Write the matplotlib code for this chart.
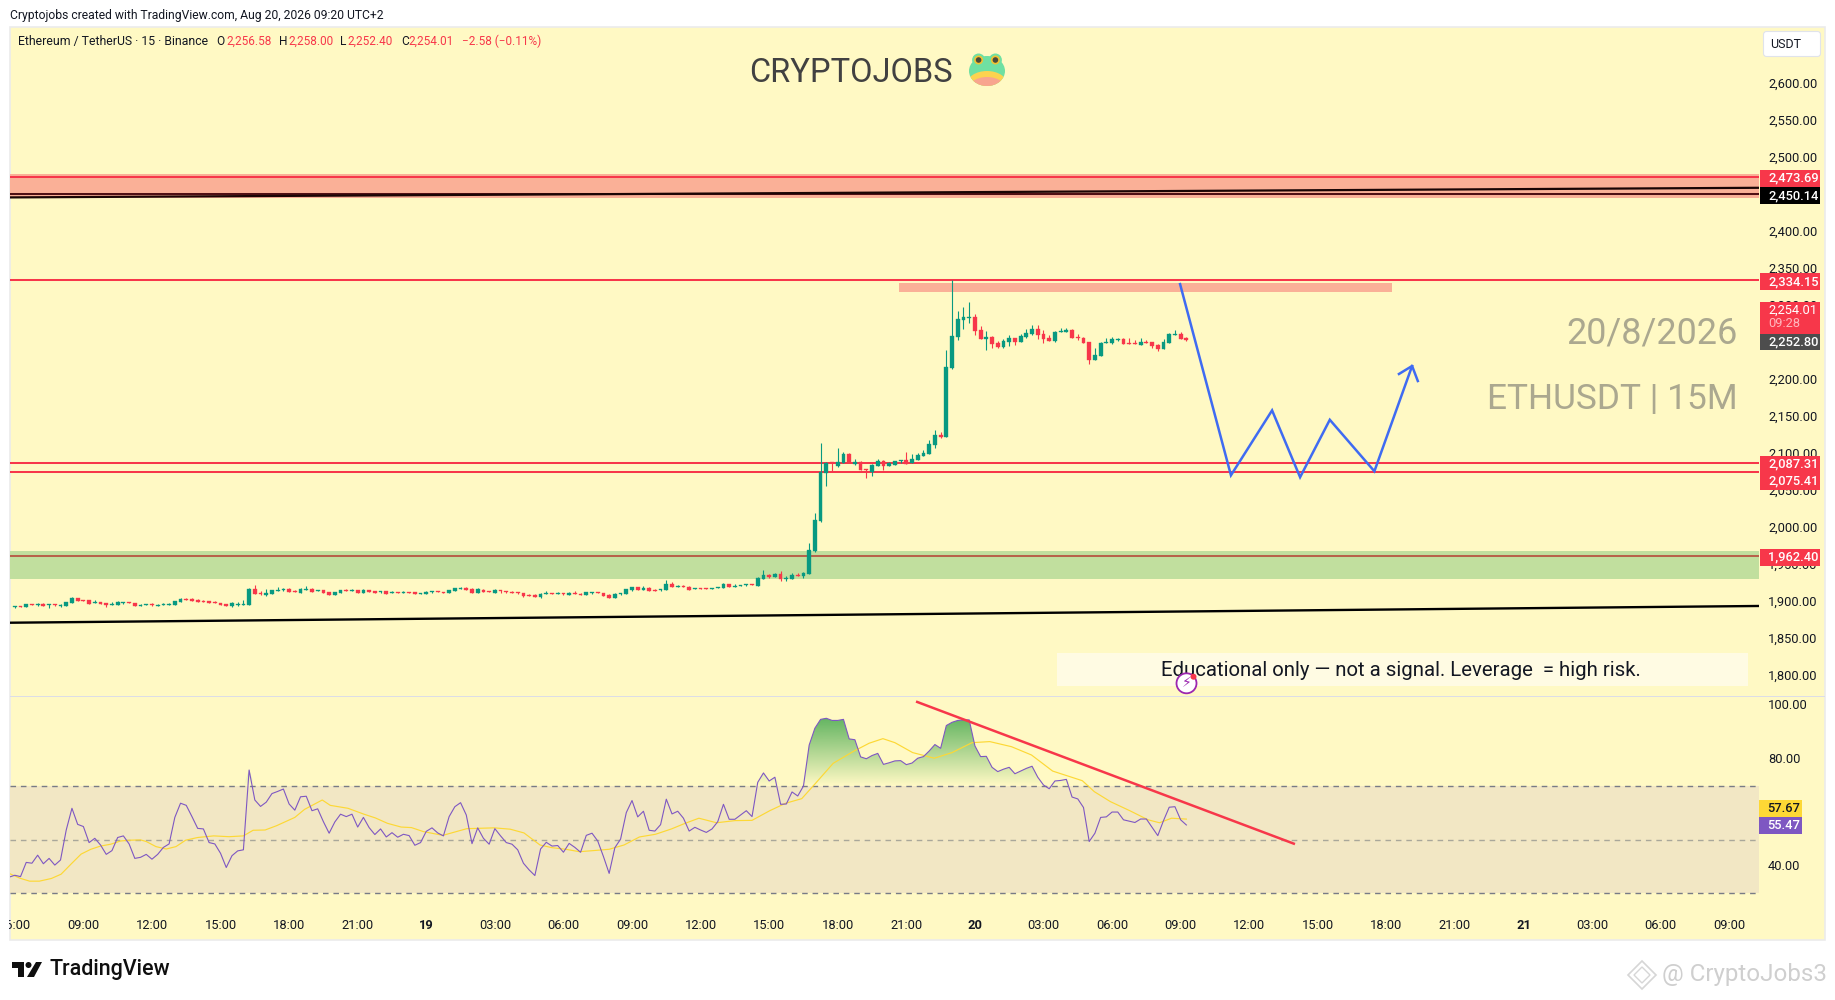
import matplotlib
matplotlib.use('Agg')
import matplotlib.pyplot as plt
from matplotlib.patches import Rectangle, Circle, Ellipse, Polygon, FancyBboxPatch
from matplotlib.transforms import ScaledTranslation
import numpy as np

# 15 minute candles, index 0 = Aug 18 09:00
bar_index = np.arange(-12, 194)
opens = [
    1893.3,1894.2,1893.3,1897.4,1896.0,1897.8,1896.5,1896.9,1894.7,1895.1,
    1899.2,1905.5,1902.8,1902.3,1898.7,1900.1,1898.7,1896.0,1896.0,1898.7,
    1900.1,1898.7,1895.1,1896.0,1897.4,1895.1,1896.5,1896.5,1896.0,1900.1,
    1904.6,1904.6,1903.2,1901.4,1901.4,1900.1,1898.7,1897.4,1894.7,1896.0,
    1896.5,1896.0,1917.6,1912.7,1909.5,1910.9,1914.9,1916.3,1918.1,1915.4,
    1912.7,1916.3,1917.6,1915.4,1916.3,1913.6,1909.5,1912.2,1916.7,1914.9,
    1916.3,1912.2,1916.3,1914.9,1913.6,1914.9,1912.2,1913.6,1912.2,1913.6,
    1913.6,1911.3,1910.9,1913.6,1914.9,1913.6,1912.2,1914.9,1917.6,1919.0,
    1917.6,1912.2,1916.3,1914.9,1912.2,1916.3,1914.9,1913.9,1913.0,1912.1,
    1909.4,1909.8,1906.7,1911.2,1912.1,1911.2,1912.1,1909.4,1911.6,1911.2,
    1909.4,1912.5,1913.4,1912.1,1909.4,1905.3,1911.2,1910.8,1916.2,1920.2,
    1916.2,1918.9,1916.2,1916.6,1916.2,1924.2,1920.2,1921.5,1920.2,1918.0,
    1918.9,1918.9,1918.0,1918.9,1918.9,1924.2,1920.7,1921.5,1922.9,1924.2,
    1921.5,1931.0,1936.4,1933.7,1937.8,1931.4,1931.0,1935.9,1935.1,1937.7,
    1968.7,2009.2,2073.5,2088.8,2083.4,2087.0,2099.6,2086.1,2088.8,2078.9,
    2075.3,2083.4,2089.7,2083.4,2085.2,2089.7,2091.5,2087.0,2091.0,2096.9,
    2099.6,2111.8,2125.3,2122.6,2215.7,2257.5,2280.5,2283.2,2284.6,2267.0,
    2254.9,2258.0,2249.5,2244.1,2250.8,2256.2,2250.8,2257.5,2261.6,2268.4,
    2261.6,2256.2,2252.2,2264.3,2264.3,2267.4,2257.5,2256.2,2250.8,2226.5,
    2231.9,2249.5,2249.5,2253.5,2254.9,2249.5,2249.5,2246.8,2250.8,2250.8,
    2246.8,2241.4,2249.5,2260.2,2261.6,2256.58]
closes = [
    1894.2,1893.3,1897.4,1896.5,1897.8,1895.1,1897.4,1896.0,1896.0,1900.1,
    1905.5,1901.4,1901.9,1897.4,1899.6,1897.4,1896.0,1897.4,1900.1,1900.1,
    1899.2,1894.7,1896.0,1896.9,1896.0,1896.0,1897.4,1897.4,1901.4,1904.1,
    1903.2,1901.4,1900.5,1900.5,1898.7,1899.2,1896.0,1894.7,1898.7,1897.4,
    1897.4,1917.6,1910.9,1910.9,1912.2,1916.3,1916.3,1918.1,1913.6,1914.0,
    1918.1,1917.6,1913.6,1916.3,1912.2,1909.5,1913.6,1916.3,1914.9,1916.7,
    1912.2,1916.3,1913.6,1912.2,1914.9,1910.9,1913.6,1912.7,1913.6,1912.7,
    1910.9,1912.2,1913.6,1914.9,1914.0,1912.7,1916.3,1919.0,1919.0,1916.3,
    1912.2,1917.6,1913.6,1914.0,1916.3,1914.9,1913.6,1912.5,1911.7,1908.5,
    1908.5,1907.1,1910.8,1912.1,1911.2,1912.1,1911.2,1912.1,1910.7,1909.9,
    1913.4,1913.4,1912.5,1908.1,1905.3,1910.8,1912.1,1917.5,1920.2,1916.2,
    1918.9,1914.8,1915.3,1917.5,1924.2,1920.2,1921.5,1920.7,1916.2,1918.9,
    1918.0,1918.0,1918.9,1920.2,1924.2,1920.2,1921.5,1922.9,1924.2,1922.9,
    1932.4,1936.4,1933.7,1937.8,1931.0,1932.4,1936.4,1935.1,1939.1,1970.1,
    2010.6,2075.4,2087.0,2087.9,2088.8,2099.6,2087.0,2088.8,2078.0,2077.6,
    2085.2,2090.2,2083.9,2087.0,2090.2,2091.0,2086.1,2092.9,2098.2,2101.0,
    2113.1,2125.3,2122.6,2217.1,2258.9,2281.9,2284.6,2284.6,2265.6,2254.9,
    2257.5,2248.1,2243.6,2252.2,2256.2,2250.8,2258.9,2262.9,2268.4,2260.2,
    2254.9,2252.2,2264.3,2265.6,2267.0,2256.2,2256.2,2249.5,2226.5,2233.2,
    2249.5,2250.8,2254.9,2254.9,2248.1,2248.1,2248.1,2250.8,2249.5,2245.4,
    2241.4,2250.8,2261.6,2261.6,2254.9,2254.01]
highs = [
    1894.2,1894.2,1897.4,1897.4,1898.7,1898.7,1897.4,1896.9,1897.4,1900.1,
    1906.8,1905.5,1902.8,1902.3,1902.8,1900.1,1898.7,1900.1,1901.4,1900.1,
    1900.1,1898.7,1897.4,1896.9,1898.7,1897.4,1898.7,1898.7,1901.4,1905.5,
    1905.5,1905.5,1904.1,1902.8,1901.4,1901.4,1898.7,1897.4,1900.1,1900.1,
    1902.8,1919.0,1923.0,1914.9,1917.6,1916.3,1920.3,1919.4,1919.0,1916.7,
    1919.0,1921.7,1919.0,1916.3,1916.3,1913.6,1913.6,1916.3,1917.6,1917.6,
    1916.3,1917.6,1916.3,1914.9,1914.9,1914.9,1914.9,1913.6,1914.9,1913.6,
    1913.6,1912.2,1914.9,1914.9,1914.9,1913.6,1916.3,1919.0,1920.3,1920.3,
    1919.0,1919.0,1917.6,1914.9,1917.6,1916.3,1914.9,1914.8,1913.0,1912.1,
    1910.8,1910.8,1912.1,1914.8,1912.1,1913.4,1912.1,1913.4,1914.8,1912.1,
    1913.4,1913.4,1913.4,1912.1,1910.8,1912.1,1912.1,1917.5,1920.2,1920.2,
    1921.6,1920.2,1917.5,1917.5,1929.6,1926.9,1922.9,1922.9,1921.5,1918.9,
    1918.9,1918.9,1918.9,1920.2,1925.6,1924.2,1924.2,1922.9,1924.2,1924.2,
    1933.7,1943.2,1937.8,1939.1,1941.8,1935.1,1939.1,1939.1,1940.4,1979.5,
    2020.0,2114.6,2089.3,2088.8,2107.7,2102.3,2100.5,2092.9,2089.7,2078.9,
    2086.1,2092.9,2091.0,2088.8,2090.2,2091.0,2102.3,2099.6,2100.5,2105.0,
    2118.5,2132.0,2129.3,2240.0,2334.15,2292.6,2298.1,2304.8,2288.6,2272.4,
    2265.6,2258.9,2252.2,2254.9,2260.2,2256.2,2261.6,2268.4,2273.8,2273.8,
    2267.0,2260.2,2265.6,2269.7,2269.7,2268.4,2261.6,2257.5,2250.8,2242.7,
    2250.8,2256.2,2257.5,2256.2,2256.2,2256.2,2253.5,2256.2,2253.5,2250.8,
    2248.1,2254.9,2263.0,2267.0,2264.3,2258.0]
lows = [
    1892.0,1893.3,1893.3,1896.5,1894.7,1895.1,1892.0,1894.7,1893.3,1895.1,
    1899.2,1901.4,1901.9,1897.4,1898.7,1897.4,1893.8,1896.0,1896.0,1897.4,
    1899.2,1894.7,1895.1,1896.0,1894.7,1895.1,1896.5,1896.5,1896.0,1900.1,
    1903.2,1901.4,1900.5,1900.5,1898.7,1899.2,1896.0,1894.7,1893.3,1894.7,
    1896.5,1896.0,1910.9,1909.5,1908.2,1910.9,1914.9,1914.9,1913.6,1914.0,
    1912.7,1916.3,1913.6,1915.4,1912.2,1909.5,1909.5,1912.2,1914.9,1914.9,
    1912.2,1912.2,1913.6,1912.2,1912.2,1910.9,1912.2,1912.7,1912.2,1912.7,
    1910.9,1911.3,1910.9,1912.2,1914.0,1912.7,1912.2,1914.9,1917.6,1916.3,
    1912.2,1912.2,1913.6,1914.0,1912.2,1912.2,1912.2,1912.5,1910.3,1907.1,
    1908.5,1907.1,1905.3,1911.2,1911.2,1911.2,1909.9,1909.4,1910.7,1909.9,
    1909.4,1911.2,1912.5,1908.1,1905.3,1905.3,1909.4,1910.8,1914.8,1916.2,
    1916.2,1914.8,1915.3,1914.8,1916.2,1920.2,1920.2,1920.7,1916.2,1918.0,
    1918.0,1918.0,1918.0,1918.9,1918.9,1920.2,1920.7,1921.5,1921.5,1922.9,
    1921.5,1931.0,1932.4,1933.7,1928.3,1928.3,1931.0,1935.1,1932.4,1937.7,
    1967.4,2007.9,2056.4,2075.7,2081.6,2087.0,2087.0,2084.3,2078.0,2067.2,
    2069.9,2083.4,2078.0,2083.4,2085.2,2087.0,2086.1,2087.0,2091.0,2096.9,
    2099.6,2107.7,2121.2,2122.6,2214.4,2253.5,2268.4,2276.5,2260.2,2254.9,
    2240.0,2242.7,2242.7,2242.7,2245.4,2246.8,2250.8,2256.2,2260.2,2254.9,
    2249.5,2252.2,2250.8,2264.3,2264.3,2256.2,2253.5,2249.5,2221.1,2226.5,
    2231.9,2249.5,2248.1,2252.2,2248.1,2248.1,2248.1,2246.8,2249.5,2242.7,
    2238.7,2241.4,2249.5,2260.2,2254.9,2252.4]

# RSI panel
rsi_index = np.arange(-13, 194)
rsi = [
    36,36.7,36.2,41.5,41.2,44.2,41,43,40.5,42.4,53.6,61.7,55.7,
    54.9,48.9,50.5,48,44.5,45.9,50.8,51.4,48.4,43,43.4,44.5,42.7,44.5,47.1,48.4,
    58.3,63.6,62.8,58.6,54.2,54,48.9,48.4,44.9,39.6,44,45.8,46.2,76,64.8,62.4,
    64,67.2,68,68.9,63.3,61,66,66.2,60.8,61.5,56.7,52.4,56.6,59.5,58.6,59.5,
    54.7,58.3,54.5,51.9,54,51,52.6,50.9,52,51.5,47.9,48.9,53.1,54.4,52.5,51.4,
    58.6,62.3,63.8,59.2,48.5,54.4,50.5,48.3,54.1,51.4,48.9,48.3,46.2,41.2,38.7,
    36.6,46.5,49,47.6,47.8,45.3,48.6,47.1,45.3,51.6,52.4,49.5,43.7,37.4,47,
    50.2,60.1,64.6,58.5,60.6,53.5,53.2,55.6,65.1,59.6,60.6,58,53.2,54.6,53.6,
    52.7,54,56.7,63.2,57.6,57.6,59.2,60.8,58.6,71.4,74.9,71.9,73.3,63.2,63.3,
    67.8,66.3,70,85.3,91.6,94.9,95.3,94.5,94.5,94.9,87.6,87.3,80.9,80.2,81.4,
    82.2,78.1,78.7,79.4,79.5,78,78.6,80.4,81,83.1,85.5,84.1,92.6,93.8,94.5,
    94.7,94.7,85,81,81.1,77,75.4,76.3,77,74.6,75.6,76.6,77.4,73.3,70.4,69,
    71.9,72.1,72.5,65.9,65.2,62,49.3,52.4,58.3,58.5,60.3,60.3,57.4,56.9,56.4,
    57.7,57.7,54.6,51.5,57.1,62.1,62.3,57.4,55.47]
ma_index = [
    -12.9,-11.1,-9.4,-7.7,-5.6,-3.9,-2.1,-0.4,1.3,3,4.8,6.5,8.2,10,11,12.7,14.5,
    16.2,17.9,20,22.8,25.5,28,29.7,31.8,33.8,37,38.7,41.8,43.2,46.3,49.1,51.1,
    53.2,55.6,57.4,59.5,62.9,67.1,71.9,74.7,77.1,79.9,82,84.4,86.8,89.2,92,94.6,
    97.3,100.1,102.9,105.3,107.7,110.8,114,117,120.1,122.9,125.7,128.1,131.2,
    134.7,137.5,139.9,142,145.1,148.9,152,155.5,158.6,162.4,165.9,169.6,174.8,
    176.9,179.7,183.2,186.3,188.3,190.4,193]
ma_values = [
    37.3,35.6,34.5,34.5,35.5,37.1,41,44.6,46.4,47.6,48.3,49.5,49.8,49.9,49.3,47.4,
    46.5,47.4,49.8,50.8,51.4,51.1,51.4,53.5,53.6,55.2,58.3,61.3,64.8,62.8,61.7,
    59.5,58.1,56.1,54.7,54.5,53,51.6,54.1,54.4,53.9,52.5,48,47,46.4,45.5,45.9,
    46.4,48,51,52,54,56.1,58,56.3,57.1,57.2,60.8,63.6,65.3,71,78.5,82.9,86,87.7,
    86.2,82.5,80.4,82.5,86.2,86.6,84.7,81.6,75.6,72,67.9,64.2,60.7,57.4,56.3,58,
    57.67]

# drawings on the price pane
level_prices = [2473.69, 2334.15, 2087.31, 2075.41, 1962.40]
resist_zone = (2445.6, 2477.6)
support_zone = (1931.0, 1968.8)
supply_box_x = (142.7, 229.0)
supply_box_y = (2318.0, 2331.0)
upper_trend_x = [-12.84, 293.2]
upper_trend_y = [2446.0, 2459.0]
lower_trend_y = [1872.0, 1894.6]
path_x = [191.9, 200.8, 208.0, 212.9, 218.1, 225.9, 232.5]
path_y = [2329.0, 2071.0, 2158.6, 2068.4, 2145.9, 2076.4, 2218.5]
head_x = [230.2, 232.5, 233.5]
head_y = [2207.7, 2218.5, 2198.2]
rsi_trend_x = [145.9, 211.8]
rsi_trend_y = [101.4, 48.5]

price_ticks = list(range(1800, 2601, 50))
rsi_ticks = [40, 80, 100]
time_ticks = list(range(-12, 289, 12))
time_labels = ['06:00', '09:00', '12:00', '15:00', '18:00', '21:00', '19',
               '03:00', '06:00', '09:00', '12:00', '15:00', '18:00', '21:00', '20',
               '03:00', '06:00', '09:00', '12:00', '15:00', '18:00', '21:00', '21',
               '03:00', '06:00', '09:00']

BG = '#fff9c4'
RED = '#f7374a'
GREEN = '#089981'
FONT = 'Roboto'
W, H = 1835, 1000

plt.rcParams['font.family'] = FONT


def frac(x0, y0, x1, y1):
    return [x0 / W, 1 - y1 / H, (x1 - x0) / W, (y1 - y0) / H]


fig = plt.figure(figsize=(W / 100, H / 100), dpi=100, facecolor='white')
fig.add_artist(Rectangle((9.5 / W, 1 - 940 / H), 1815.5 / W, 913 / H, transform=fig.transFigure,
                         facecolor=BG, edgecolor='#ebebeb', lw=1.2, zorder=-1))

# price pane
ax = fig.add_axes(frac(10, 27, 1759, 696), facecolor='none')
ax.set_xlim(-12.84, 293.2)
ax.set_ylim(1773.1, 2676)
for s in ax.spines.values():
    s.set_visible(False)

ax.axhspan(*resist_zone, color='#fab097', lw=0, zorder=1)
ax.axhspan(*support_zone, color='#c1df9e', lw=0, zorder=1)
ax.add_patch(Rectangle((supply_box_x[0], supply_box_y[0]), supply_box_x[1] - supply_box_x[0],
                       supply_box_y[1] - supply_box_y[0], color='#fab097', lw=0, zorder=1))
for p in level_prices:
    c = '#b8624a' if p == 1962.40 else RED
    ax.axhline(p, color=c, lw=1.45, zorder=2)
ax.axhline(2450.14, color='#4f0f14', lw=1.45, zorder=2)
ax.plot(upper_trend_x, upper_trend_y, color='#1a0505', lw=1.6, zorder=2)
ax.plot(upper_trend_x, lower_trend_y, color='black', lw=1.7, zorder=2)

colors = [GREEN if c >= o else RED for o, c in zip(opens, closes)]
ax.vlines(bar_index, lows, highs, colors=colors, lw=0.8, zorder=3)
bottoms = np.minimum(opens, closes)
heights = np.abs(np.array(closes) - np.array(opens))
ax.bar(bar_index, heights, width=0.66, bottom=bottoms, color=colors, edgecolor=colors, lw=0.25, zorder=3)

ax.plot(path_x, path_y, color='#3f6bf2', lw=1.8, zorder=4, solid_joinstyle='miter')
ax.plot(head_x, head_y, color='#3f6bf2', lw=1.8, zorder=4)

ax.yaxis.tick_right()
ax.set_yticks(price_ticks)
ax.set_yticklabels([f'{p:,.2f}' for p in price_ticks], fontsize=9.3, color='#131722')
ax.tick_params(axis='y', length=0, pad=6.5)
ax.set_xticks([])
up1 = ScaledTranslation(0, 1 / 100, fig.dpi_scale_trans)
for lab in ax.get_yticklabels():
    lab.set_transform(lab.get_transform() + up1)

# RSI pane
ax2 = fig.add_axes(frac(10, 697, 1759, 905), facecolor='none')
ax2.set_xlim(-12.84, 293.2)
ax2.set_ylim(25.6, 103.25)
for s in ax2.spines.values():
    s.set_visible(False)
ax2.axhspan(30, 70, color='#f2e7c4', lw=0, zorder=1)
ax2.axhline(70, color='#787b86', lw=1, dashes=(4, 3.5), zorder=2)
ax2.axhline(30, color='#787b86', lw=1, dashes=(4, 3.5), zorder=2)
ax2.axhline(50, color='#a9a79a', lw=1, dashes=(4, 3.5), zorder=2)

# green gradient above 70
upper = np.maximum(rsi, 70)
poly = ax2.fill_between(rsi_index, 70, upper, color='none', lw=0)
grad = np.zeros((100, 2, 4))
grad[..., :3] = matplotlib.colors.to_rgb('#5fb35f')
grad[..., 3] = np.linspace(1, 0, 100)[:, None]
im = ax2.imshow(grad, extent=(-12.84, 293.2, 70, 96), aspect='auto', zorder=2, interpolation='bilinear')
im.set_clip_path(poly.get_paths()[0], transform=ax2.transData)
ax2.set_xlim(-12.84, 293.2)
ax2.set_ylim(25.6, 103.25)

ax2.plot(ma_index, ma_values, color='#fdd835', lw=0.85, zorder=3)
ax2.plot(rsi_index, rsi, color='#7e57c2', lw=0.8, zorder=4)
ax2.plot(rsi_trend_x, rsi_trend_y, color=RED, lw=1.8, zorder=5)

ax2.yaxis.tick_right()
ax2.set_yticks(rsi_ticks)
ax2.set_yticklabels([f'{v:.2f}' for v in rsi_ticks], fontsize=9.3, color='#131722')
ax2.tick_params(axis='y', length=0, pad=6.5)
up2 = ScaledTranslation(0, 1.5 / 100, fig.dpi_scale_trans)
for lab in ax2.get_yticklabels():
    lab.set_transform(lab.get_transform() + up2)
ax2.set_xticks(time_ticks)
ax2.set_xticklabels(time_labels, fontsize=9.3, color='#131722')
ax2.tick_params(axis='x', length=0, pad=10)
for lab, txt in zip(ax2.get_xticklabels(), time_labels):
    if len(txt) == 2:
        lab.set_fontweight('bold')

# overlay in pixel coordinates: price tags, captions, logos
top = fig.add_axes([0, 0, 1, 1], facecolor='none', zorder=10)
top.set_xlim(0, W)
top.set_ylim(H, 0)
top.axis('off')

top.add_patch(Rectangle((0, 27), 9, 913, color='white', lw=0))
top.add_patch(Rectangle((1057, 653), 691, 33, color='#fffbe3', lw=0, zorder=1))
top.add_patch(Rectangle((10, 695.8), 1815, 0.9, color='#dcdde6', lw=0))


def tag(y0, y1, text, bg, fg='white', x0=1760, x1=1820):
    top.add_patch(Rectangle((x0, y0), x1 - x0, y1 - y0, color=bg, lw=0, zorder=3))
    top.text(x0 + 8, (y0 + y1) / 2, text, color=fg, fontsize=9.3, va='center', ha='left',
             fontweight='medium', zorder=4)


tag(170, 186.7, '2,473.69', RED)
tag(187, 204, '2,450.14', 'black')
tag(273, 290, '2,334.15', RED)
top.add_patch(Rectangle((1760, 302), 60, 31.5, color=RED, lw=0, zorder=3))
top.text(1768, 310, '2,254.01', color='white', fontsize=9.3, va='center', zorder=4)
top.text(1768, 323.7, '09:28', color='#ffb7bd', fontsize=9.3, va='center', zorder=4)
tag(333.5, 350, '2,252.80', '#4d4d4d')
tag(456, 472.7, '2,087.31', RED)
tag(472.7, 490, '2,075.41', RED)
tag(548.5, 565.5, '1,962.40', RED)
tag(800, 816.7, '57.67', '#fdd835', '#131722', 1759, 1802)
tag(817, 833.7, '55.47', '#7e57c2', 'white', 1759, 1802)

top.add_patch(FancyBboxPatch((1765, 33), 54, 22, boxstyle='round,pad=1.5,rounding_size=3',
                             facecolor='white', edgecolor='#e0e3eb', lw=0.8))
top.text(1786, 45, 'USDT', fontsize=9, ha='center', va='center', color='#131722')

top.text(10, 15, 'Cryptojobs created with TradingView.com, Aug 20, 2026 09:20 UTC+2',
         fontsize=8.7, va='center', color='#131722')
top.text(17.5, 41.7, 'Ethereum / TetherUS · 15 · Binance', fontsize=8.85, va='center', color='#131722')
for x, letter in zip([216, 278.6, 340, 401], 'OHLC'):
    top.text(x, 41.7, letter, fontsize=8.6, va='center', color='#131722')
for x, val in zip([226, 288, 347, 408, 462], ['2,256.58', '2,258.00', '2,252.40', '2,254.01', '−2.58 (−0.11%)']):
    top.text(x, 41.7, val, fontsize=8.5, va='center', color=RED)

top.text(749, 72.5, 'CRYPTOJOBS', fontsize=23.5, va='center', color='#414141')
top.text(1738, 334, '20/8/2026', fontsize=25.9, va='center', ha='right', color='#aba88f')
top.text(1738, 399, 'ETHUSDT | 15M', fontsize=25.4, va='center', ha='right', color='#aba88f')
top.text(1161, 671, 'Educational only — not a signal. Leverage  = high risk.',
         fontsize=14.7, va='center', color='#131722', zorder=2)

# frog
body = Ellipse((987, 71), 36, 30, color='#6fe0a2', lw=0)
top.add_patch(body)
top.add_patch(Circle((978.6, 60), 6.5, color='#6fe0a2', lw=0))
top.add_patch(Circle((995.4, 60), 6.5, color='#6fe0a2', lw=0))
chin = Ellipse((987, 84), 40, 26, color='#fdd34f', lw=0)
top.add_patch(chin)
chin.set_clip_path(body)
belly = Ellipse((987, 91), 40, 28, color='#f8a58f', lw=0)
top.add_patch(belly)
belly.set_clip_path(body)
for x in [978.6, 995.4]:
    top.add_patch(Circle((x, 60), 4.5, color='#f1c232', lw=0))
    top.add_patch(Circle((x, 60), 2.8, color='#4a4a3a', lw=0))

# replay marker
top.add_patch(Circle((1186.5, 683.3), 10, facecolor='white', edgecolor='#9c27b0', lw=1.3, zorder=5))
top.text(1186.5, 683.5, '⚡', family='DejaVu Sans', fontsize=10, color='#9c27b0', ha='center', va='center', zorder=6)
top.add_patch(Circle((1193.5, 676.7), 3, color=RED, lw=0, zorder=6))

# TradingView logo
top.add_patch(Polygon([(12, 962), (24, 962), (24, 977), (18, 977), (18, 968), (12, 968)], color='#0f0f0f', lw=0))
top.add_patch(Circle((28.5, 965), 3, color='#0f0f0f', lw=0))
top.add_patch(Polygon([(36, 962), (42, 962), (34, 977), (27, 977)], color='#0f0f0f', lw=0))
top.text(49, 969.5, 'TradingView', fontsize=15.5, fontweight='medium', va='center', color='#0f0f0f')

# watermark
for r, lw in [(14, 1.2), (8, 1.0)]:
    top.add_patch(Polygon([(1642, 975 - r), (1642 + r, 975), (1642, 975 + r), (1642 - r, 975)],
                          facecolor='none', edgecolor='#d6d6d6', lw=lw))
top.text(1662, 975, '@ CryptoJobs3', fontsize=17.4, va='center', color='#cfcfcf')

fig.savefig('out.png', dpi=100, facecolor='white')
